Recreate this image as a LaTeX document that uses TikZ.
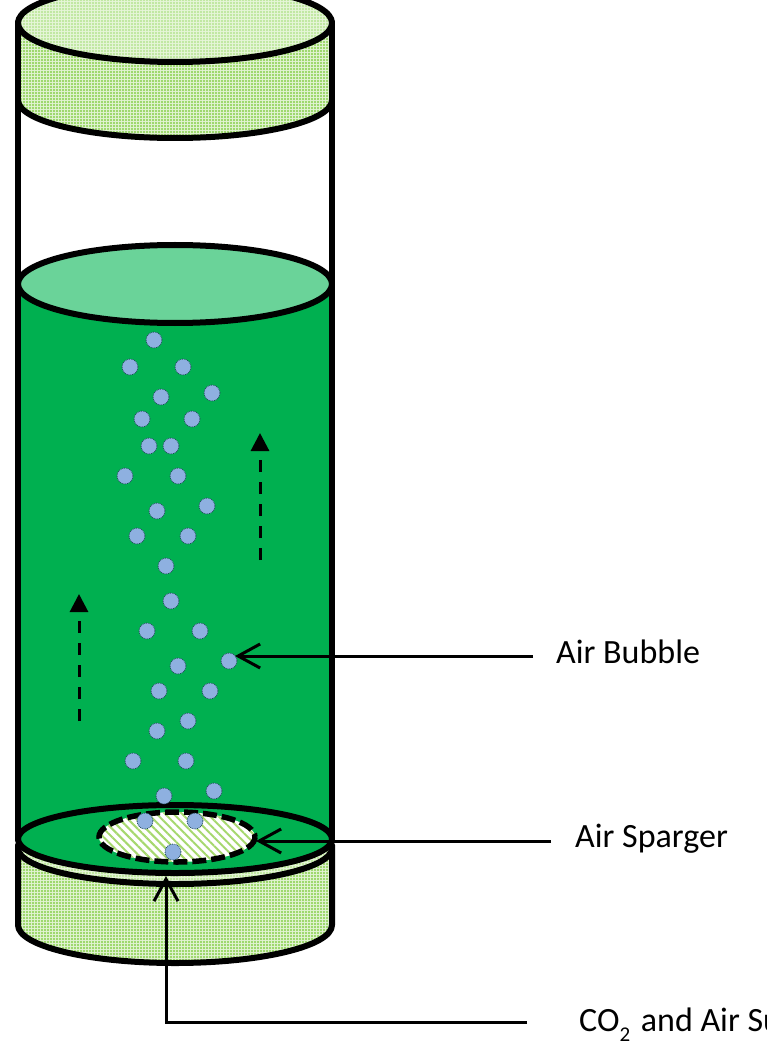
\documentclass[tikz,border=0pt]{standalone}
\usepackage{fontspec}
\setmainfont{Carlito}
\usetikzlibrary{arrows.meta,patterns.meta}
\definecolor{liquid}{HTML}{00B050}
\definecolor{surface}{HTML}{6AD399}
\definecolor{lidside}{HTML}{86CF4A}
\definecolor{lidtop}{HTML}{B4E490}
\definecolor{stripe}{HTML}{A6D86E}
\definecolor{bubblefill}{HTML}{8EB0E0}
\definecolor{bubbleedge}{HTML}{1F4A5A}
\tikzset{
  wall/.style={draw=black, line width=6pt, line cap=round, line join=round},
  dot/.style={circle, fill=bubblefill, draw=bubbleedge, densely dotted, line width=0.8pt, minimum size=16pt, inner sep=0pt},
  flow/.style={draw=black, line width=3pt, dash pattern=on 12pt off 10pt, -{Triangle[length=18pt,width=18pt,sep=0pt]}},
  leader/.style={draw=black, line width=3pt, -{Straight Barb[length=22pt,width=24pt,line width=3pt]}},
  lab/.style={text=black, font=\fontsize{34}{40}\selectfont, inner sep=0pt, anchor=west},
  sidefill/.style={fill=lidside!25!white, postaction={pattern={Dots[distance=3pt,radius=1.1pt]}, pattern color=lidside}},
  topfill/.style={fill=lidtop!35!white, postaction={pattern={Dots[distance=3pt,radius=1.1pt]}, pattern color=lidtop}},
}
\begin{document}
\begin{tikzpicture}[x=1pt,y=-1pt]
  \useasboundingbox (0,0) rectangle (767,1056);
  % bottom lid
  \path[sidefill] (18,845) -- (18,925) arc[start angle=180,end angle=0,x radius=157,y radius=38] -- (332,845) -- cycle;
  \draw[wall] (18,845) -- (18,925) arc[start angle=180,end angle=0,x radius=157,y radius=38] -- (332,845);
  \path[topfill] (18,848) arc[start angle=180,end angle=0,x radius=157,y radius=36];
  \draw[wall] (18,848) arc[start angle=180,end angle=0,x radius=157,y radius=36];
  % liquid
  \fill[liquid] (18,284) rectangle (332,838);
  \draw[wall,fill=liquid] (175,839) ellipse[x radius=157,y radius=34];
  \draw[wall,fill=surface] (175,284) ellipse[x radius=157,y radius=39];
  % column wall
  \draw[wall] (18,22) -- (18,840) (332,22) -- (332,840);
  % top lid
  \path[sidefill] (18,23) -- (18,100) arc[start angle=180,end angle=0,x radius=157,y radius=38] -- (332,23) -- cycle;
  \draw[wall] (18,100) arc[start angle=180,end angle=0,x radius=157,y radius=38];
  \draw[wall] (18,23) -- (18,100) (332,23) -- (332,100);
  \path[topfill] (175,23) ellipse[x radius=157,y radius=39];
  \draw[wall] (175,23) ellipse[x radius=157,y radius=39];
  % sparger
  \fill[white] (177,837) ellipse[x radius=78,y radius=25];
  \fill[pattern={Lines[angle=-45,distance=6pt,line width=2pt]},pattern color=stripe] (177,837) ellipse[x radius=78,y radius=25];
  \draw[draw=black,line width=5.5pt,dash pattern=on 14pt off 5pt] (177,837) ellipse[x radius=78,y radius=25];
  % bubbles
  \foreach \X/\Y [count=\n] in {154/340,130/367,183/367,212/393,161/397,142/419,192/419,149/446,171/446,125/476,178/476,207/506,157/511,137/536,188/536,166/566,171/601,147/631,200/631,229/661,178/666,210/691,159/691,188/721,157/731,133/761,186/761,214/791,164/796,145/821,195/821,173/852}
    \node[dot] (bubble\n) at (\X,\Y) {};
  % flow arrows
  \coordinate (flowAtail) at (260,560);
  \coordinate (flowAhead) at (260,433);
  \coordinate (flowBtail) at (79,721);
  \coordinate (flowBhead) at (79,594);
  \draw[flow] (flowAtail) -- (flowAhead);
  \draw[flow] (flowBtail) -- (flowBhead);
  % labels
  \node[lab] (lblBubble) at (556,652) {Air Bubble};
  \node[lab] (lblSparger) at (575,839) {Air Sparger};
  \node[lab] (lblSupply) at (579,1025) {CO\raisebox{-10pt}{\fontsize{21}{21}\selectfont 2}\hspace{3pt} and Air Su};
  \coordinate (tipBubble) at (235,656);
  \coordinate (tipSparger) at (256,841);
  \coordinate (tipSupply) at (166,876);
  \coordinate (cornerSupply) at (166,1022);
  \draw[leader] ([xshift=-23pt]lblBubble.west |- tipBubble) -- (tipBubble);
  \draw[leader] ([xshift=-24pt]lblSparger.west |- tipSparger) -- (tipSparger);
  \draw[leader] ([xshift=-52pt]lblSupply.west |- cornerSupply) -- (cornerSupply) -- (tipSupply);
\end{tikzpicture}
\end{document}
